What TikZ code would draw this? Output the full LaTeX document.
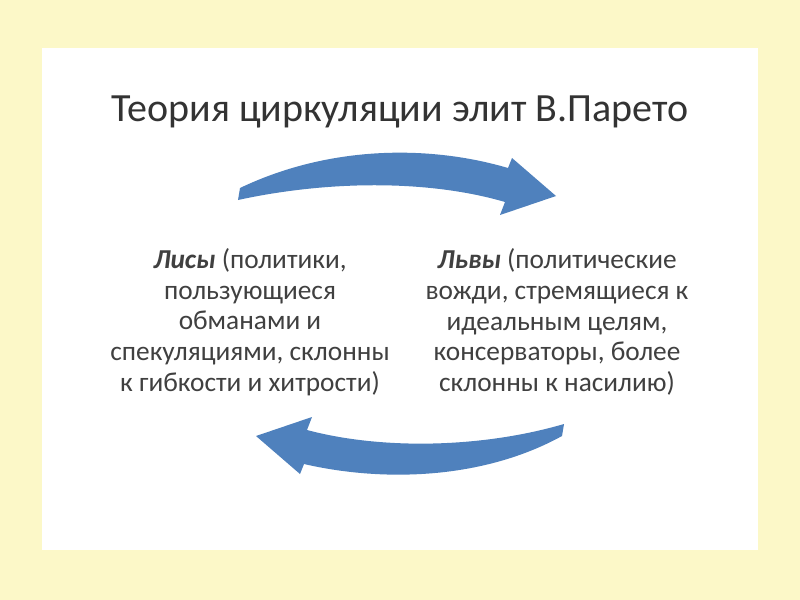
\documentclass[tikz,border=0pt]{standalone}
\usepackage{fontspec}
\setmainfont{Carlito}
\usetikzlibrary{positioning}
\definecolor{paleyellow}{HTML}{FCF8C8}
\definecolor{arrowblue}{HTML}{4F81BD}
\definecolor{textgray}{HTML}{404040}
\tikzset{
	block/.style={align=center,text=textgray,font=\fontsize{20.5}{23}\selectfont},
	bend arrow/.style={fill=arrowblue,draw=none}
}
\begin{document}
\begin{tikzpicture}[x=0.75pt,y=-0.75pt]
	\useasboundingbox (0,0) rectangle (800,600);
	\fill[paleyellow] (0,0) rectangle (800,600);
	\fill[white] (42,48) rectangle (758,550);
	\node[text=black!80,font=\fontsize{30}{34}\selectfont] (title) at (400,112) {Теория циркуляции элит В.Парето};
	% top arrow
	\path[bend arrow] (238,200) -- (240,188) .. controls (330,145) and (430,145) .. (508,168)
		-- (512,158) -- (556,196) -- (500,215) -- (505,202)
		.. controls (430,180) and (330,180) .. (238,200) -- cycle;
	% bottom arrow
	\begin{scope}[rotate around={180:(406,316)}]
		\path[bend arrow] (248,208) -- (250,196) .. controls (330,152) and (430,150) .. (508,168)
			-- (512,158) -- (556,196) -- (500,215) -- (505,202)
			.. controls (430,182) and (330,184) .. (248,208) -- cycle;
	\end{scope}
	\node[block] (foxes) at (250,322) {\textbf{\textit{Лисы}} (политики,\\пользующиеся\\обманами и\\спекуляциями, склонны\\к гибкости и хитрости)};
	\node[block] (lions) at (557,322) {\textbf{\textit{Львы}} (политические\\вожди, стремящиеся к\\идеальным целям,\\консерваторы, более\\склонны к насилию)};
\end{tikzpicture}
\end{document}
